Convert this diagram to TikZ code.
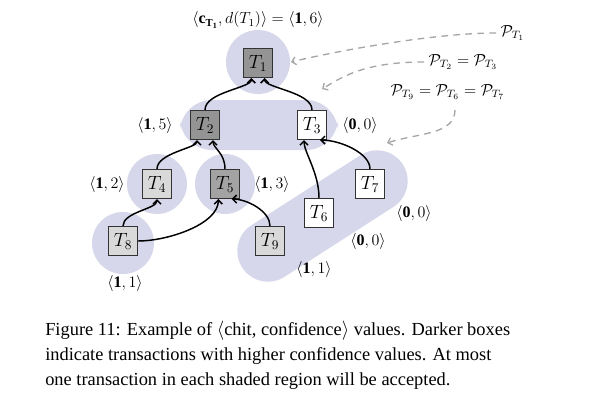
\documentclass[tikz,border=0pt]{standalone}
\usepackage{fontspec}
\setmainfont{Liberation Serif}
\usetikzlibrary{arrows.meta}
\definecolor{shd}{RGB}{214,215,234}
\begin{document}
\begin{tikzpicture}[x=0.75pt,y=-0.75pt,
  tx/.style={draw=black!80,line width=0.6pt,minimum size=22pt,inner sep=0pt,font=\Large},
  dk/.style={tx,fill=black!42},
  md/.style={tx,fill=black!36},
  lt/.style={tx,fill=black!15},
  wh/.style={tx,fill=white},
  ed/.style={-{Straight Barb[length=3pt,width=6pt]},line width=1.1pt},
  pa/.style={-{Straight Barb[length=3pt,width=6pt]},dashed,gray!70,line width=1pt,dash pattern=on 5pt off 4pt},
  lb/.style={font=\large}]
\useasboundingbox (0,0) rectangle (603,414);
% regions
\fill[shd] (258,62) circle (32);
\fill[shd,rounded corners=24] (180,100) rectangle (338,150);
\fill[shd] (157,184) circle (30);
\fill[shd] (225,184) circle (30);
\fill[shd] (123,243) circle (31);
\draw[shd,line width=46pt,line cap=round] (268,251) -- (377,181);
% nodes
\node[dk] (T1) at (258,63) {$T_1$};
\node[dk] (T2) at (205,125) {$T_2$};
\node[wh] (T3) at (312,125) {$T_3$};
\node[lt] (T4) at (157,184) {$T_4$};
\node[md] (T5) at (225,184) {$T_5$};
\node[wh] (T6) at (319,213) {$T_6$};
\node[wh] (T7) at (370,184) {$T_7$};
\node[lt] (T8) at (123,241) {$T_8$};
\node[lt] (T9) at (270,241) {$T_9$};
% edges
\draw[ed] (T2.north) .. controls +(0,-18) and +(0,10) .. ([xshift=-5pt]T1.south);
\draw[ed] (T3.north) .. controls +(0,-18) and +(0,10) .. ([xshift=5pt]T1.south);
\draw[ed] (T4.north) .. controls +(0,-16) and +(0,8) .. ([xshift=-6pt]T2.south);
\draw[ed] (T5.north) .. controls +(0,-16) and +(0,8) .. ([xshift=6pt]T2.south);
\draw[ed] (T6.north) .. controls +(0,-25) and +(0,12) .. ([xshift=-6pt]T3.south);
\draw[ed] (T7.north) .. controls +(0,-16) and +(20,0) .. ([xshift=6pt]T3.south);
\draw[ed] (T8.north) .. controls +(0,-14) and +(0,10) .. (T4.south);
\draw[ed] (T8.east) .. controls +(30,0) and +(0,25) .. ([xshift=-5pt]T5.south);
\draw[ed] (T9.north) .. controls +(0,-15) and +(15,0) .. ([xshift=5pt]T5.south);
% labels
\node[lb] (L1) at (258,20) {$\langle \mathbf{c}_{\mathbf{T_1}}, d(T_1)\rangle = \langle \mathbf{1},6\rangle$};
\node[lb] (L2) at (155,125) {$\langle\mathbf{1},5\rangle$};
\node[lb] (L3) at (360,125) {$\langle\mathbf{0},0\rangle$};
\node[lb] (L4) at (107,184) {$\langle\mathbf{1},2\rangle$};
\node[lb] (L5) at (272,184) {$\langle\mathbf{1},3\rangle$};
\node[lb] (L6) at (414,213) {$\langle\mathbf{0},0\rangle$};
\node[lb] (L7) at (368,241) {$\langle\mathbf{0},0\rangle$};
\node[lb] (L8) at (314,269) {$\langle\mathbf{1},1\rangle$};
\node[lb] (L9) at (125,283) {$\langle\mathbf{1},1\rangle$};
\node[lb,anchor=west] (P1) at (496,33) {$\mathcal{P}_{T_1}$};
\node[lb,anchor=west] (P2) at (424,62) {$\mathcal{P}_{T_2}=\mathcal{P}_{T_3}$};
\node[lb,anchor=west] (P3) at (386,92) {$\mathcal{P}_{T_9}=\mathcal{P}_{T_6}=\mathcal{P}_{T_7}$};
\coordinate (a1) at (291,62);
\coordinate (a2) at (322,89);
\coordinate (a3) at (387,143);
\coordinate (s3) at (455,110);
\draw[pa] (P1.west) .. controls +(-60,0) and +(50,-12) .. (a1);
\draw[pa] (P2.west) .. controls +(-60,0) and +(20,-12) .. (a2);
\draw[pa] (s3) .. controls +(0,25) and +(30,-10) .. (a3);
% caption
\node[anchor=north west,align=left,inner sep=0pt,font=\fontsize{13.8}{18.5}\selectfont] (cap) at (45,321)
 {Figure 11: Example of $\langle$chit, confidence$\rangle$ values. Darker boxes\\
  indicate transactions with higher confidence values. At most\\
  one transaction in each shaded region will be accepted.};
\end{tikzpicture}
\end{document}
